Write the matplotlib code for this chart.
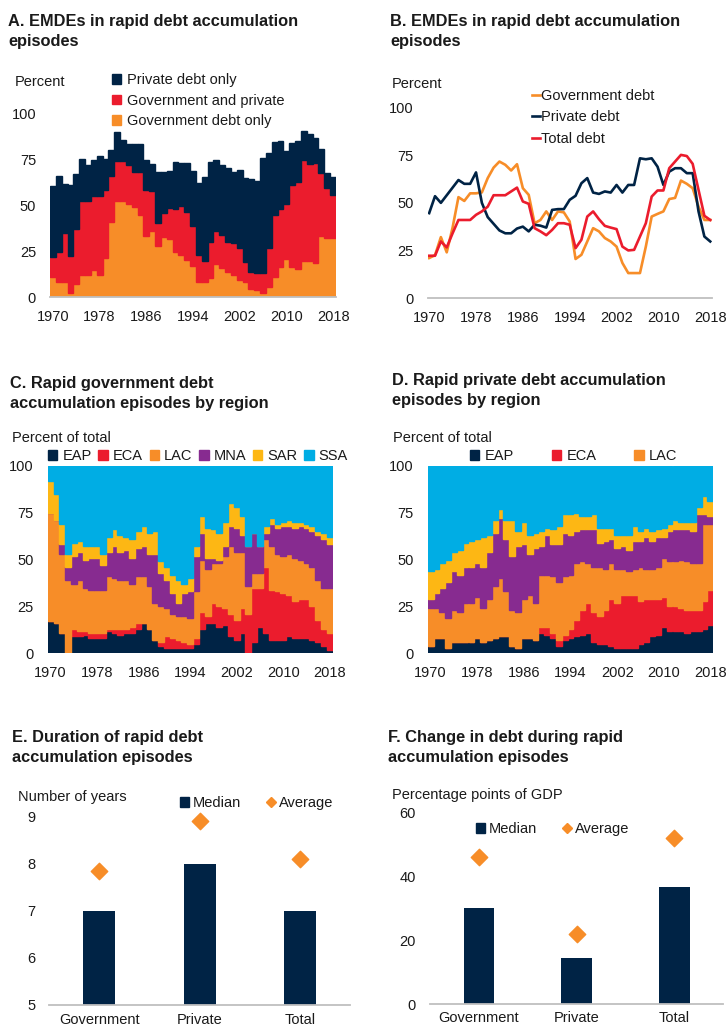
import numpy as np
import matplotlib
matplotlib.use("Agg")
import matplotlib.pyplot as plt
from matplotlib import font_manager
from matplotlib.patches import Patch
from matplotlib.lines import Line2D

# ------------------------------------------------------------
# fonts / colours
# ------------------------------------------------------------
plt.rcParams["font.family"] = ["Liberation Sans", "DejaVu Sans"]
plt.rcParams["font.size"] = 10.5

installed = {f.name for f in font_manager.fontManager.ttflist}
if "Liberation Sans Narrow" in installed:
    TITLE_FONT, TITLE_SIZE = "Liberation Sans Narrow", 13.4
else:
    TITLE_FONT, TITLE_SIZE = "Liberation Sans", 11.8

NAVY = "#002345"
RED = "#EB1C2D"
ORANGE = "#F78D28"
PURPLE = "#872B90"
GOLD = "#FDB714"
CYAN = "#00ADE4"
AXIS_GREY = "#BFBFBF"
TEXT = "#1a1a1a"

W, H = 728, 1031

# ------------------------------------------------------------
# data
# ------------------------------------------------------------
years = np.arange(1970, 2019)
year_ticks = [1970, 1978, 1986, 1994, 2002, 2010, 2018]

# A. share of EMDEs in episodes, by type (percent)
gov_only = [10.9, 8.2, 8.2, 2.2, 7.2, 12.1, 12.1, 14.9, 12.1, 21.2,
            40.6, 52.4, 52.4, 50.7, 48.7, 44.7, 33.0, 36.0, 27.5, 32.4,
            31.7, 24.6, 22.8, 20.1, 16.8, 8.3, 8.3, 10.1, 17.9, 15.6,
            13.8, 12.0, 9.2, 8.3, 4.2, 3.8, 2.4, 5.6, 11.0, 16.5,
            20.7, 16.1, 15.0, 19.6, 19.6, 18.3, 33.2, 32.2, 32.2]
gov_and_private = [10.7, 16.4, 26.4, 20.3, 29.8, 39.9, 39.9, 39.8, 42.6, 37.1,
                   25.4, 21.3, 21.3, 21.3, 19.1, 23.1, 25.0, 21.6, 12.5, 13.2,
                   16.7, 23.0, 26.7, 26.3, 22.0, 14.5, 11.3, 19.9, 18.1, 18.1,
                   16.2, 17.2, 17.2, 10.9, 9.6, 9.1, 10.5, 20.8, 33.6, 31.3,
                   29.8, 44.8, 47.7, 54.9, 52.7, 54.3, 34.0, 26.8, 23.2]
private_only = [38.9, 41.4, 26.8, 38.5, 30.0, 23.0, 20.0, 19.9, 22.1, 16.7,
                13.7, 15.8, 11.8, 11.3, 15.5, 15.5, 16.3, 14.9, 27.8, 22.4,
                19.9, 26.0, 23.1, 26.2, 29.7, 39.0, 45.8, 43.5, 38.5, 38.0,
                40.0, 38.8, 42.6, 45.3, 50.2, 50.3, 62.5, 51.6, 39.8, 37.2,
                29.0, 22.6, 22.1, 15.9, 16.3, 13.6, 13.1, 8.2, 9.6]

# B. share of EMDEs in episodes (percent)
gov_debt = [21.0, 22.5, 32.0, 24.0, 37.0, 53.0, 51.0, 55.0, 55.0, 55.5,
            63.0, 68.5, 71.7, 70.0, 67.0, 70.3, 57.7, 54.2, 39.3, 41.0,
            45.5, 41.0, 45.5, 45.0, 40.2, 20.5, 22.7, 29.7, 36.7, 35.0,
            31.5, 29.7, 27.0, 18.4, 13.1, 13.1, 13.1, 27.0, 42.8, 44.2,
            45.5, 52.0, 52.6, 61.7, 60.0, 57.7, 48.0, 41.0, 41.0]
private_debt = [44.6, 53.5, 50.0, 54.0, 58.0, 62.0, 60.0, 60.0, 66.0, 50.0,
                42.5, 39.0, 35.5, 34.0, 34.0, 36.5, 37.5, 35.0, 38.5, 38.0,
                37.0, 46.3, 46.7, 46.7, 51.6, 53.7, 60.3, 63.0, 55.4, 54.7,
                56.0, 55.4, 59.4, 55.4, 59.4, 59.4, 73.4, 72.9, 73.4, 69.0,
                59.4, 66.4, 68.2, 68.2, 65.6, 65.6, 45.5, 32.3, 29.7]
total_debt = [22.2, 22.2, 29.7, 26.6, 34.0, 41.0, 41.0, 41.0, 43.7, 45.5,
              48.0, 54.0, 54.0, 54.0, 56.0, 58.0, 50.7, 49.5, 36.7, 35.0,
              33.0, 35.8, 39.3, 39.3, 38.5, 26.2, 30.6, 42.8, 45.5, 41.4,
              37.9, 37.0, 36.2, 27.0, 25.0, 25.3, 32.3, 39.3, 53.3, 56.5,
              56.5, 68.2, 71.7, 75.2, 74.6, 70.5, 56.8, 43.2, 41.0]

regions = ["EAP", "ECA", "LAC", "MNA", "SAR", "SSA"]

# C. government debt episodes by region (percent of total)
gov_eap = [17, 16, 11, 0, 9, 9, 10, 8, 8, 8, 12, 11, 10, 11, 11, 13, 16, 13, 7, 4,
           3, 3, 3, 3, 3, 5, 13, 16, 16, 14, 15, 9, 7, 11, 0, 6, 14, 11, 7, 7,
           7, 9, 8, 8, 8, 7, 6, 4, 2]
gov_eca = [0, 0, 0, 0, 4, 3, 2, 3, 3, 3, 1, 2, 3, 2, 3, 3, 0, 0, 0, 2,
           6, 5, 4, 3, 2, 3, 9, 4, 11, 11, 9, 12, 11, 13, 21, 29, 21, 35, 27, 26,
           25, 22, 20, 21, 21, 18, 12, 9, 9]
gov_lac = [58, 55, 42, 39, 24, 27, 23, 23, 23, 23, 28, 27, 26, 26, 23, 25, 25, 23, 20, 19,
           15, 13, 13, 14, 14, 25, 28, 25, 21, 23, 28, 36, 36, 30, 15, 8, 8, 15, 23, 20,
           20, 22, 23, 21, 19, 21, 21, 22, 24]
gov_mna = [0, 0, 5, 7, 15, 15, 15, 17, 17, 13, 13, 17, 15, 16, 14, 15, 16, 17, 26, 18,
           15, 11, 7, 12, 14, 19, 14, 6, 3, 2, 5, 11, 13, 9, 21, 21, 14, 3, 12, 14,
           16, 15, 16, 18, 19, 19, 24, 26, 23]
gov_sar = [17, 14, 11, 7, 7, 6, 7, 6, 6, 6, 8, 9, 9, 7, 10, 9, 11, 11, 12, 6,
           7, 10, 12, 5, 7, 5, 9, 16, 15, 14, 13, 12, 11, 10, 0, 0, 0, 4, 3, 2,
           2, 3, 3, 2, 2, 3, 2, 3, 4]
gov_ssa = [8, 15, 31, 47, 41, 40, 43, 43, 43, 47, 38, 34, 37, 38, 39, 35, 32, 36, 35, 51,
           54, 58, 61, 63, 60, 43, 27, 33, 34, 36, 30, 20, 22, 27, 43, 36, 43, 32, 28, 31,
           30, 29, 30, 30, 31, 32, 35, 36, 38]

# D. private debt episodes by region (percent of total)
prv_eap = [4, 8, 8, 3, 6, 6, 6, 6, 8, 6, 7, 8, 9, 9, 4, 3, 8, 8, 7, 11,
           10, 8, 4, 7, 8, 9, 10, 11, 6, 5, 5, 4, 3, 3, 3, 3, 5, 6, 9, 10,
           14, 12, 12, 12, 11, 12, 12, 13, 15]
prv_eca = [0, 0, 0, 0, 0, 0, 0, 0, 0, 0, 0, 0, 0, 0, 0, 0, 0, 0, 0, 3,
           4, 3, 3, 3, 5, 9, 13, 16, 16, 15, 18, 25, 24, 28, 28, 28, 23, 23, 20, 19,
           16, 13, 13, 12, 12, 11, 11, 15, 19]
prv_lac = [20, 16, 14, 16, 17, 16, 21, 21, 22, 18, 22, 28, 31, 24, 19, 19, 21, 23, 20, 28,
           28, 30, 31, 31, 29, 30, 26, 21, 24, 26, 22, 19, 18, 14, 13, 14, 18, 16, 16, 17,
           21, 24, 24, 26, 26, 25, 25, 41, 35]
prv_mna = [5, 8, 13, 19, 21, 20, 19, 19, 18, 22, 25, 28, 32, 28, 29, 35, 29, 22, 29, 15,
           21, 17, 20, 23, 21, 17, 17, 18, 20, 13, 15, 13, 11, 12, 11, 15, 14, 17, 15, 16,
           11, 16, 17, 16, 17, 17, 26, 5, 4]
prv_sar = [15, 13, 13, 12, 10, 13, 13, 14, 13, 16, 9, 7, 5, 10, 19, 8, 12, 10, 8, 8,
           4, 8, 10, 10, 11, 10, 7, 7, 8, 8, 7, 6, 7, 6, 8, 8, 5, 5, 5, 4,
           5, 4, 5, 4, 4, 5, 4, 10, 8]
prv_ssa = [56, 55, 52, 50, 46, 45, 41, 40, 39, 38, 37, 29, 23, 29, 29, 35, 30, 37, 36, 35,
           33, 34, 32, 26, 26, 25, 27, 27, 26, 33, 33, 33, 37, 37, 37, 32, 35, 33, 35, 34,
           33, 31, 29, 30, 30, 30, 22, 16, 19]

# E / F. episode statistics
episode_types = ["Government", "Private", "Total"]
duration_median = [7, 8, 7]
duration_average = [7.85, 8.9, 8.1]
change_median = [30, 14.5, 36.5]
change_average = [46, 22, 52]

# ------------------------------------------------------------
# helpers (positions in pixels of the 728 x 1031 canvas)
# ------------------------------------------------------------
fig = plt.figure(figsize=(W / 100, H / 100), dpi=100)


def add_axes(left, top, right, bottom):
    return fig.add_axes([left / W, 1 - bottom / H, (right - left) / W, (bottom - top) / H])


def fig_text(x, y, s, **kw):
    fig.text(x / W, 1 - y / H, s, color=TEXT, **kw)


def title(x, y, s):
    fig.text(x / W, 1 - y / H, s, va="top", ha="left", color=TEXT,
             family=TITLE_FONT, size=TITLE_SIZE, fontweight="bold", linespacing=1.42)


def legend(ax, handles, labels, x, y, **kw):
    opts = dict(loc="upper left", bbox_to_anchor=(x / W, 1 - y / H),
                bbox_transform=fig.transFigure, frameon=False, borderpad=0,
                borderaxespad=0, fontsize=10.5, handlelength=0.65, handleheight=0.65,
                handletextpad=0.35)
    opts.update(kw)
    leg = ax.legend(handles, labels, **opts)
    for t in leg.get_texts():
        t.set_color(TEXT)
    return leg


def style(ax, show_bottom=True, xpad=9):
    for side in ["top", "right", "left"]:
        ax.spines[side].set_visible(False)
    ax.spines["bottom"].set_visible(show_bottom)
    ax.spines["bottom"].set_color(AXIS_GREY)
    ax.spines["bottom"].set_linewidth(1.3)
    ax.tick_params(axis="both", length=0, labelsize=10.5, colors=TEXT)
    ax.tick_params(axis="y", pad=10)
    ax.tick_params(axis="x", pad=xpad)


def stacked_bars(ax, series, colors):
    bottom = np.zeros(len(years))
    for vals, c in zip(series, colors):
        ax.bar(years, vals, width=1.0, bottom=bottom, color=c, edgecolor=c, linewidth=1.0)
        bottom += np.asarray(vals, dtype=float)


def square(c):
    return Patch(facecolor=c, edgecolor=c)


# ------------------------------------------------------------
# A. stacked bars by episode type
# ------------------------------------------------------------
ax = add_axes(50, 113, 336, 297)
stacked_bars(ax, [gov_only, gov_and_private, private_only], [ORANGE, RED, NAVY])
ax.set_xlim(1969.5, 2018.5)
ax.set_ylim(0, 100)
ax.set_yticks([0, 25, 50, 75, 100])
ax.set_xticks(year_ticks)
style(ax)
title(8, 14, "A. EMDEs in rapid debt accumulation\nepisodes")
fig_text(15, 82, "Percent", va="center")
legend(ax, [square(NAVY), square(RED), square(ORANGE)],
       ["Private debt only", "Government and private", "Government debt only"],
       112, 73, labelspacing=0.45)

# ------------------------------------------------------------
# B. lines
# ------------------------------------------------------------
ax = add_axes(427.7, 107.7, 711.7, 298)
l1, = ax.plot(years, gov_debt, color=ORANGE, lw=1.9)
l2, = ax.plot(years, private_debt, color=NAVY, lw=1.9)
l3, = ax.plot(years, total_debt, color=RED, lw=1.9)
ax.set_xlim(1969.75, 2018.25)
ax.set_ylim(0, 100)
ax.set_yticks([0, 25, 50, 75, 100])
ax.set_xticks(year_ticks)
style(ax)
title(390, 14, "B. EMDEs in rapid debt accumulation\nepisodes")
fig_text(392, 84, "Percent", va="center")
legend(ax, [l1, l2, l3], ["Government debt", "Private debt", "Total debt"],
       532, 89, handlelength=0.55, handletextpad=0.1, labelspacing=0.5)

# ------------------------------------------------------------
# C. government debt episodes by region
# ------------------------------------------------------------
region_colors = [NAVY, RED, ORANGE, PURPLE, GOLD, CYAN]

ax = add_axes(47.7, 465.7, 332.7, 653.3)
stacked_bars(ax, [gov_eap, gov_eca, gov_lac, gov_mna, gov_sar, gov_ssa], region_colors)
ax.set_xlim(1969.5, 2018.5)
ax.set_ylim(0, 100)
ax.set_yticks([0, 25, 50, 75, 100])
ax.set_xticks(year_ticks)
style(ax, show_bottom=False)
title(10, 376, "C. Rapid government debt\naccumulation episodes by region")
fig_text(12, 438, "Percent of total", va="center")
legend(ax, [square(c) for c in region_colors], regions, 48, 449,
       ncol=6, columnspacing=0.45)

# ------------------------------------------------------------
# D. private debt episodes by region
# ------------------------------------------------------------
ax = add_axes(427.7, 465.7, 713.3, 653.3)
stacked_bars(ax, [prv_eap, prv_eca, prv_lac, prv_mna, prv_sar, prv_ssa], region_colors)
ax.set_xlim(1969.5, 2018.5)
ax.set_ylim(0, 100)
ax.set_yticks([0, 25, 50, 75, 100])
ax.set_xticks(year_ticks)
style(ax, show_bottom=False)
title(392, 373, "D. Rapid private debt accumulation\nepisodes by region")
fig_text(393, 438, "Percent of total", va="center")
legend(ax, [square(c) for c in region_colors[:3]], regions[:3], 470, 449,
       ncol=3, columnspacing=2.6)

# ------------------------------------------------------------
# E. duration
# ------------------------------------------------------------
x = np.arange(len(episode_types))

ax = add_axes(49.3, 816.7, 350, 1005)
ax.bar(x, duration_median, width=0.32, color=NAVY, bottom=0)
ax.scatter(x, duration_average, marker="D", s=70, color=ORANGE, zorder=3, clip_on=False)
ax.set_xlim(-0.5, 2.5)
ax.set_ylim(5, 9)
ax.set_yticks([5, 6, 7, 8, 9])
ax.set_xticks(x, episode_types)
style(ax, xpad=6)
title(12, 730, "E. Duration of rapid debt\naccumulation episodes")
fig_text(18, 797, "Number of years", va="center")
legend(ax, [square(NAVY), Line2D([], [], ls="", marker="D", ms=5.5, color=ORANGE)],
       ["Median", "Average"], 180, 796, ncol=2, columnspacing=1.7,
       handletextpad=0.25)

# ------------------------------------------------------------
# F. change in debt
# ------------------------------------------------------------
ax = add_axes(430, 812, 723.3, 1004)
ax.bar(x, change_median, width=0.31, color=NAVY)
ax.scatter(x, change_average, marker="D", s=70, color=ORANGE, zorder=3, clip_on=False)
ax.set_xlim(-0.5, 2.5)
ax.set_ylim(0, 60)
ax.set_yticks([0, 20, 40, 60])
ax.set_xticks(x, episode_types)
style(ax, xpad=5)
title(388, 730, "F. Change in debt during rapid\naccumulation episodes")
fig_text(392, 795, "Percentage points of GDP", va="center")
legend(ax, [square(NAVY), Line2D([], [], ls="", marker="D", ms=5.5, color=ORANGE)],
       ["Median", "Average"], 476, 822, ncol=2, columnspacing=1.7,
       handletextpad=0.25)

fig.savefig("out.png", dpi=100)
